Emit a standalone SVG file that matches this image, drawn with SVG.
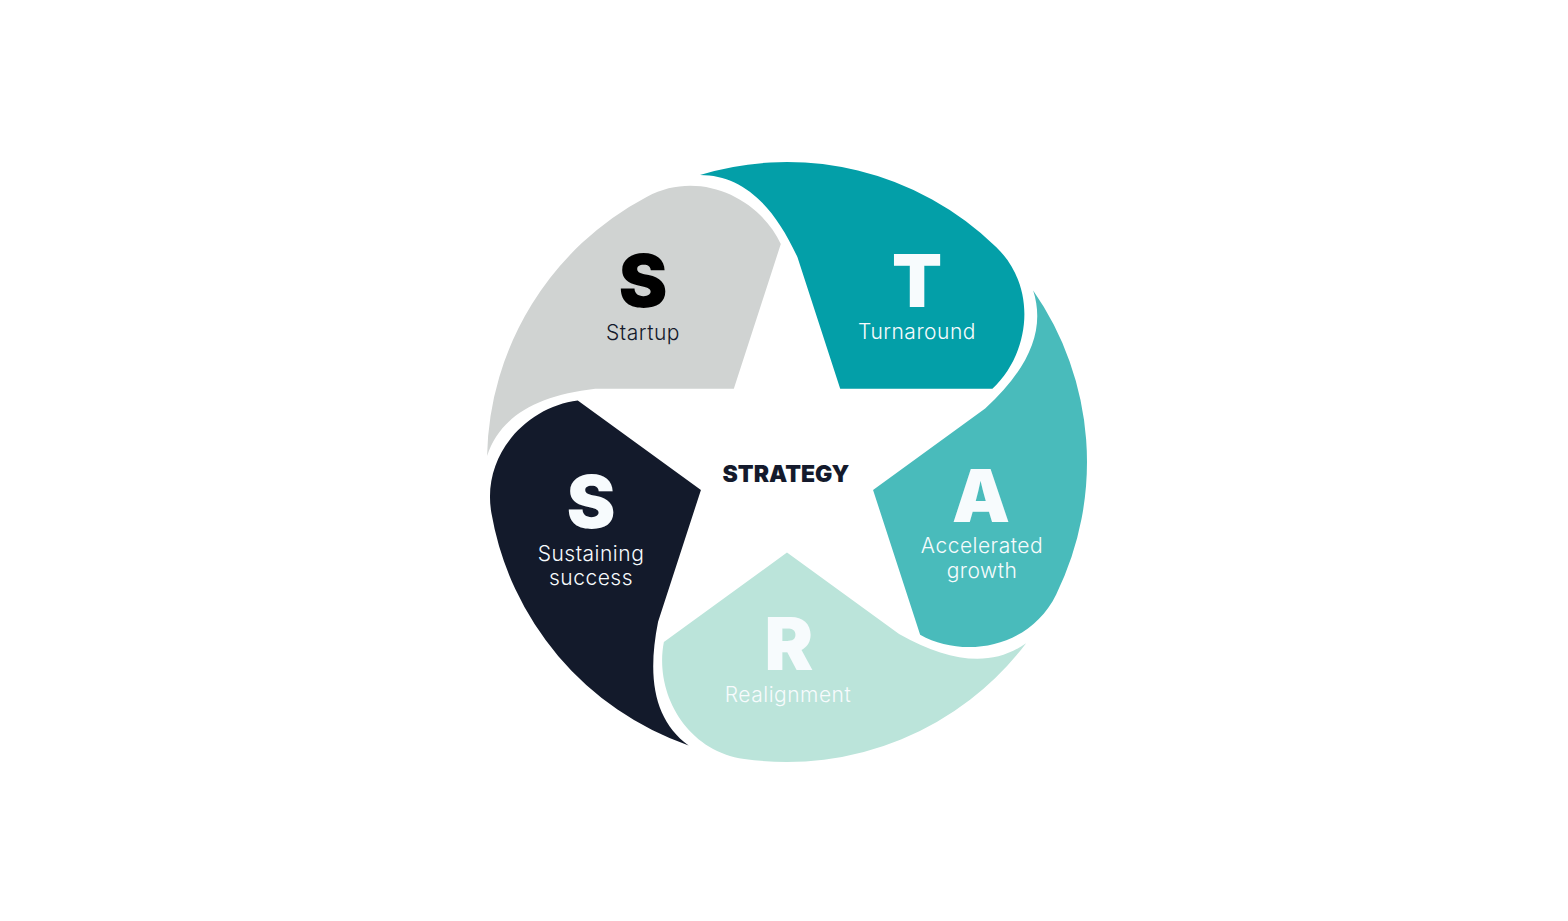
<svg xmlns="http://www.w3.org/2000/svg" xmlns:xlink="http://www.w3.org/1999/xlink" width="1568" height="921" viewBox="0 0 1568 921">
  <style>
    .big { font-family: Inter, "Open Sans", "Liberation Sans", sans-serif; font-weight: 900; font-size: 73px; text-anchor: middle; }
    .lbl { font-family: Inter, "Open Sans", "Liberation Sans", sans-serif; font-weight: 300; font-size: 21px; text-anchor: middle; letter-spacing: 0.5px; }
    .title { font-family: Inter, "Open Sans", "Liberation Sans", sans-serif; font-weight: 900; font-size: 23px; text-anchor: middle; }
    .light { fill: #f7fbfd; }
    .dark { fill: #141a2c; }
  </style>
  <defs>
    <!-- one petal of the pinwheel, in coordinates centred on the circle centre -->
    <path id="seg" d="M -87,-287.1 C -45,-287 -14,-258 10.4,-205 L 53.2,-73.2 L 205.4,-73.26 C 242.2,-107.3 252.1,-173.4 209.1,-215.1 A 300 300 0 0 0 -87,-287.1 Z"/>
  </defs>
  <rect width="1568" height="921" fill="#ffffff"/>

  <g id="node-startup">
    <use xlink:href="#seg" href="#seg" transform="translate(787 462) rotate(-72)" fill="#d0d3d2"/>
    <text x="643" y="307" class="big" fill="#000000">S</text>
    <text x="643" y="340" class="lbl dark">Startup</text>
  </g>
  <g id="node-turnaround">
    <use xlink:href="#seg" href="#seg" transform="translate(787 462)" fill="#039fa8"/>
    <text x="917" y="307" class="big light">T</text>
    <text x="917" y="339" class="lbl light">Turnaround</text>
  </g>
  <g id="node-accelerated">
    <use xlink:href="#seg" href="#seg" transform="translate(787 462) rotate(72)" fill="#49bbbb"/>
    <text x="981" y="522" class="big light">A</text>
    <text x="982" y="553" class="lbl light">Accelerated</text>
    <text x="982" y="578" class="lbl light">growth</text>
  </g>
  <g id="node-realignment">
    <use xlink:href="#seg" href="#seg" transform="translate(787 462) rotate(144)" fill="#bbe4da"/>
    <text x="789" y="670" class="big light">R</text>
    <text x="788" y="702" class="lbl light">Realignment</text>
  </g>
  <g id="node-sustaining">
    <use xlink:href="#seg" href="#seg" transform="translate(787 462) rotate(216)" fill="#131a2b"/>
    <text x="591" y="528" class="big light">S</text>
    <text x="591" y="561" class="lbl light">Sustaining</text>
    <text x="591" y="585" class="lbl light">success</text>
  </g>

  <g id="node-strategy">
    <text x="786" y="482" class="title dark">STRATEGY</text>
  </g>
</svg>
